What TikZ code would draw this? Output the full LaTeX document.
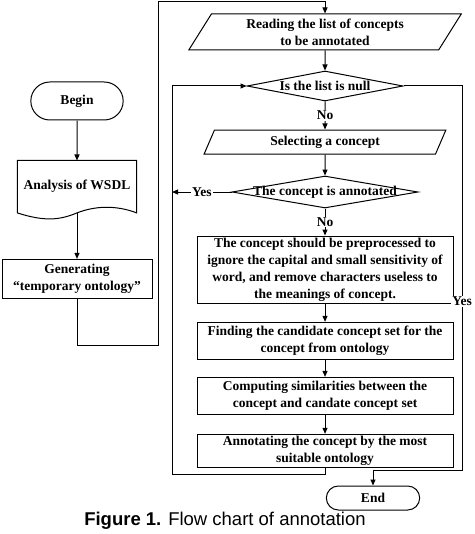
\documentclass[tikz,border=0pt]{standalone}
\usepackage{fontspec}
\setmainfont{Liberation Serif}
\newfontfamily\capfont{Liberation Sans}
\usepackage{tikz}
\usetikzlibrary{arrows.meta,positioning,shapes.geometric,shapes.misc}
\newcommand{\chartfont}{\fontsize{13.5}{17}\selectfont\bfseries}
\tikzstyle{termNode}=[rounded rectangle, draw, line width=1pt, font=\chartfont]
\tikzstyle{procNode}=[rectangle, draw, line width=1pt, align=center,
  minimum width=256pt, inner sep=2pt, font=\chartfont]
\tikzstyle{dataNode}=[trapezium, trapezium stretches=true, draw, line width=1pt,
  align=center, inner sep=1pt, font=\chartfont]
\tikzstyle{decisionNode}=[diamond, draw, line width=1pt, inner sep=0pt, font=\chartfont]
\tikzstyle{arr}=[-{Triangle[length=6pt,width=5pt]}, line width=1pt]
\tikzstyle{lbl}=[fill=white, inner sep=1pt, font=\chartfont]
\begin{document}
\begin{tikzpicture}[x=1pt, y=-1pt, node distance=20pt]
\useasboundingbox (0,0) rectangle (474,534);
% left column
\node[termNode, minimum width=99pt, minimum height=38pt] (begin) at (77,101) {Begin};
\node[minimum width=119pt, minimum height=52pt, inner sep=0pt, font=\chartfont, below=40pt of begin] (wsdl) {\raisebox{4pt}{Analysis of WSDL}};
\draw[line width=1pt] (wsdl.south west) -- (wsdl.north west) -- (wsdl.north east) -- (wsdl.south east)
  .. controls +(-21,-8) and +(18,-7) .. (wsdl.south)
  .. controls +(-17,7) and +(28,9) .. (wsdl.south west);
\node[procNode, minimum width=150pt, minimum height=39pt, below=46pt of wsdl] (gen) {Generating\\“temporary ontology”};
% main column
\node[dataNode, trapezium left angle=61, trapezium right angle=119, minimum width=273pt, minimum height=36pt] (read) at (325,32) {Reading the list of concepts\\to be annotated};
\node[decisionNode, minimum width=156pt, minimum height=30pt, below=20pt of read] (null) {\makebox[0pt]{Is the list is null}};
\node[dataNode, trapezium left angle=70, trapezium right angle=110, minimum width=242pt, minimum height=24pt, below=28pt of null] (sel) {Selecting a concept};
\node[decisionNode, minimum width=186pt, minimum height=32pt, below=21pt of sel] (ann) {\makebox[0pt]{The concept is annotated}};
\node[procNode, minimum height=66pt, below=27pt of ann] (prep) {The concept should be preprocessed to\\ignore the capital and small sensitivity of\\word, and remove characters useless to\\the meanings of concept.};
\node[procNode, minimum height=37pt, below=18pt of prep] (find) {Finding the candidate concept set for the\\concept from ontology};
\node[procNode, minimum height=37pt, below=17pt of find] (comp) {Computing similarities between the\\concept and candate concept set};
\node[procNode, minimum height=33pt, below=19pt of comp] (annot) {Annotating the concept by the most\\suitable ontology};
\node[termNode, minimum width=100pt, minimum height=24pt] (stop) at (373,498) {End};
\node[font=\capfont\fontsize{18.5}{22}\selectfont] (cap) at (225,521) {\textbf{Figure 1.} Flow chart of annotation};
% connectors
\coordinate (bt) at (158,345);
\coordinate (tp) at (158,2);
\coordinate (lp) at (172,474);
\coordinate (rp) at (462,470);
\draw[arr] (begin) -- (wsdl);
\draw[arr] (wsdl.south) -- (gen);
\draw[arr] (gen.south) |- (bt) -- (tp) -| (read.north);
\draw[arr] (read) -- (null);
\draw[arr] (null) -- node[lbl]{No} (sel);
\draw[arr] (sel) -- (ann);
\draw[arr] (ann.west) -- node[lbl]{Yes} (ann.west -| lp);
\draw[arr] (ann) -- node[lbl]{No} (prep);
\draw[arr] (prep) -- (find);
\draw[arr] (find) -- (comp);
\draw[arr] (comp) -- (annot);
\draw[arr] (annot.south) |- (lp) |- (null.west);
\draw[arr] (null.east) -| node[lbl, pos=0.78]{Yes} (rp) -| (stop.north);
\end{tikzpicture}
\end{document}
